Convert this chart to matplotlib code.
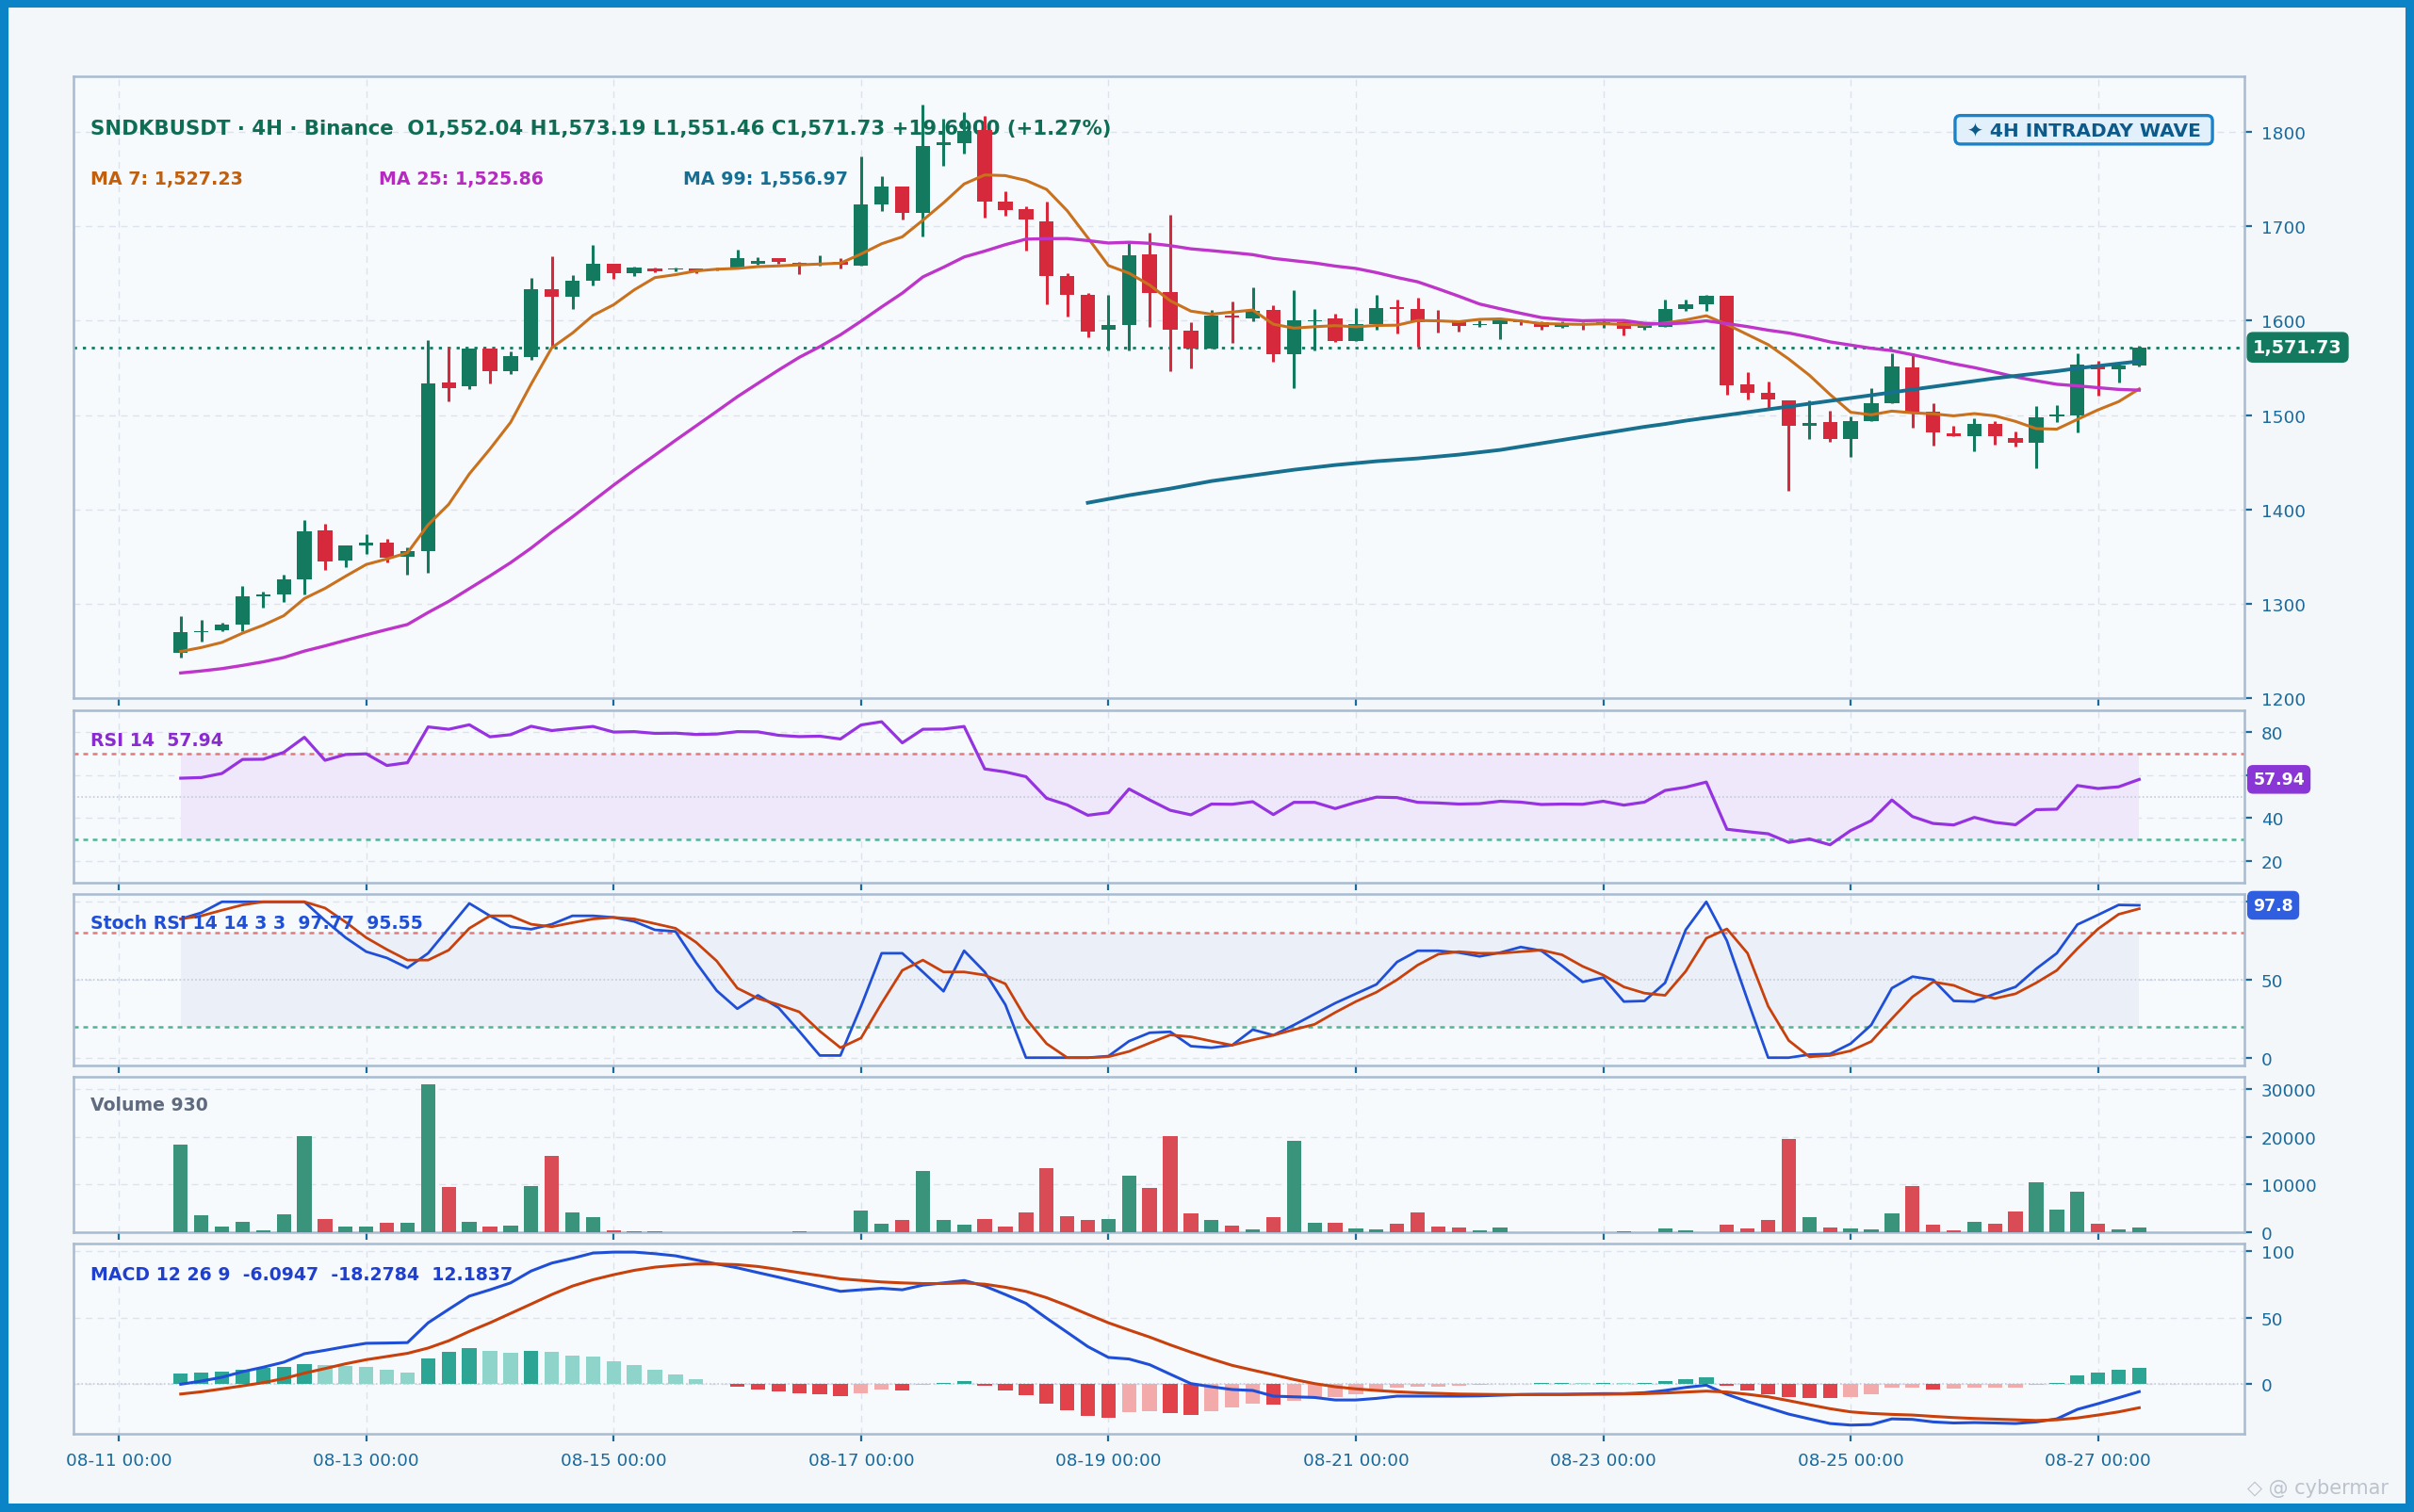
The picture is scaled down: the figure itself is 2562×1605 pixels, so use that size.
import numpy as np
import pandas as pd
import matplotlib
matplotlib.use("Agg")
import matplotlib.pyplot as plt
from matplotlib.patches import Rectangle

# ---------------- data ----------------
start_time = "2025-08-11 12:00"
bar_hours = 4
tick_labels = ["08-11 00:00", "08-13 00:00", "08-15 00:00", "08-17 00:00", "08-19 00:00",
               "08-21 00:00", "08-23 00:00", "08-25 00:00", "08-27 00:00"]

opens = [1248, 1270, 1272, 1278, 1308, 1310, 1326, 1377.6, 1345.6, 1361.6,
         1364.6, 1349.8, 1355.7, 1534, 1530.4, 1570.5, 1546, 1561, 1633.3, 1625,
         1642, 1660, 1650, 1655.7, 1654.4, 1655, 1654.5, 1655, 1660, 1666,
         1661.5, 1660, 1662, 1658.6, 1722.8, 1742.6, 1714, 1786, 1788.6, 1802,
         1726.6, 1718, 1705.5, 1647.3, 1627.4, 1590.3, 1595.8, 1670.5, 1630.4, 1589.5,
         1570.5, 1605, 1602, 1611.4, 1564, 1599.6, 1602, 1578.5, 1596.6, 1614.3,
         1612.2, 1600, 1598.7, 1595, 1596.6, 1600, 1598.7, 1593.7, 1596.6, 1595.8,
         1597.9, 1592.8, 1593.2, 1612.7, 1617.7, 1626, 1532, 1523.6, 1515.6, 1489,
         1492.4, 1474.3, 1493.2, 1512.2, 1550.2, 1503.8, 1480.6, 1477.2, 1491, 1475.5,
         1471, 1499, 1499.6, 1553.6, 1548, 1552.04]
highs = [1286.5, 1283, 1280, 1319, 1313, 1331, 1388.6, 1385, 1362, 1374,
         1368.8, 1360, 1579.7, 1572.6, 1570.5, 1570.5, 1567, 1645, 1668, 1648.5,
         1680, 1660, 1657, 1656.5, 1656.5, 1655.5, 1656, 1675.5, 1667, 1666,
         1662, 1669.6, 1666, 1774, 1752.7, 1742.6, 1828.7, 1814, 1821.5, 1817,
         1737, 1721, 1726, 1650, 1629, 1627.4, 1682, 1693.7, 1712.7, 1598.7,
         1611.4, 1620.7, 1635.4, 1616.5, 1632.5, 1612, 1607, 1613.5, 1627.4, 1622.8,
         1624, 1611.4, 1600.8, 1600.8, 1603, 1601, 1599.5, 1599, 1598, 1600,
         1599.5, 1596.5, 1622, 1622.8, 1627.4, 1626, 1545, 1535.4, 1515.6, 1515.6,
         1505, 1498.3, 1529, 1565, 1565, 1513, 1488.2, 1496.6, 1494, 1483,
         1510, 1511, 1565.8, 1557.8, 1554.4, 1573.19]
lows = [1243, 1260, 1270.5, 1270.5, 1296, 1302, 1310, 1336, 1339, 1353,
        1343.5, 1331, 1333, 1515, 1528, 1533, 1543, 1558.6, 1571, 1612,
        1637.6, 1644, 1647, 1651.5, 1652.5, 1650, 1653, 1655, 1659, 1660,
        1649, 1658.6, 1655.5, 1658.6, 1716, 1707.6, 1689, 1764, 1776.8, 1709.7,
        1711, 1674.7, 1617, 1604, 1582.7, 1568, 1568, 1593.7, 1546.8, 1549,
        1570.5, 1576.8, 1599.6, 1556.5, 1529, 1568, 1577.6, 1578, 1590.3, 1586,
        1572.6, 1587.3, 1588, 1593.7, 1580.6, 1595.8, 1590.3, 1592.4, 1590.3, 1592.8,
        1584, 1590.3, 1593.2, 1610.5, 1610.5, 1521.5, 1516.5, 1506.8, 1419.4, 1474.3,
        1471.3, 1455.3, 1493.2, 1512.2, 1487, 1467.5, 1477.2, 1461.6, 1468.4, 1466.7,
        1443.5, 1492.4, 1481.4, 1520.7, 1534.6, 1551.46]
closes = [1270, 1271, 1277.5, 1307.5, 1310, 1325.7, 1376.8, 1345, 1361.6, 1364.6,
          1348.5, 1355.7, 1533.3, 1529, 1570.5, 1546, 1562, 1633.3, 1625, 1642,
          1660, 1650, 1656.5, 1652.7, 1655, 1652.7, 1655, 1666, 1663, 1662,
          1660.5, 1661, 1659, 1722.8, 1742.6, 1714, 1785.6, 1789, 1801.3, 1726,
          1717.7, 1707, 1647.3, 1627.4, 1588, 1595.4, 1669.6, 1629.5, 1590.3, 1570.5,
          1605, 1603.8, 1610.5, 1564, 1600.8, 1600.5, 1578.5, 1596.6, 1613.5, 1612.7,
          1598.7, 1598.3, 1594, 1596, 1600, 1598, 1593.2, 1595.4, 1595.8, 1598.7,
          1591, 1595.8, 1612.2, 1616.9, 1626, 1531.2, 1523.6, 1516.5, 1489, 1492,
          1474.3, 1494, 1512.2, 1551, 1503.8, 1481.4, 1477.2, 1491, 1477.2, 1471,
          1497.5, 1500, 1553.6, 1548, 1552.04, 1571.73]
volumes = [18400, 3600, 1250, 2240, 460, 3800, 20130, 2830, 1250, 1250,
           2040, 2040, 31050, 9540, 2240, 1250, 1450, 9740, 16050, 4200,
           3220, 460, 260, 260, 40, 30, 30, 40, 30, 30,
           200, 30, 30, 4470, 1840, 2630, 12900, 2630, 1640, 2830,
           1250, 4200, 13490, 3420, 2630, 2830, 11900, 9340, 20200, 4000,
           2630, 1450, 660, 3220, 19200, 2040, 2040, 850, 660, 1840,
           4200, 1250, 1050, 460, 1050, 30, 30, 30, 30, 30,
           260, 30, 850, 460, 30, 1640, 850, 2630, 19600, 3220,
           1050, 850, 660, 4000, 9740, 1640, 460, 2240, 1840, 4400,
           10500, 4800, 8550, 1840, 660, 930]

# moving-average values before a full window is visible
ma7_head = [1249.4, 1253.6, 1259.0, 1268.8, 1277.2, 1287.3]
ma25_head = [1226.6, 1228.7, 1231.2, 1234.6, 1238.4, 1243.0, 1249.8, 1255.3, 1261.2, 1267.0,
             1272.6, 1278.0, 1290.7, 1302.5, 1316.0, 1329.5, 1343.5, 1359.0, 1376.0, 1392.0,
             1408.9, 1425.7, 1441.8, 1457.4]
ma99_tail = [1407, 1411, 1415, 1418.5, 1422, 1426, 1430, 1433, 1436, 1439,
             1442, 1444.5, 1447, 1449, 1451, 1452.5, 1454, 1456, 1458, 1460.5,
             1463, 1466.5, 1470, 1473.5, 1477, 1480.5, 1484, 1487.5, 1490.5, 1494,
             1497, 1500, 1503, 1506, 1509, 1512, 1515, 1518, 1521, 1524,
             1527, 1530, 1533, 1536, 1539, 1541.5, 1544, 1546.5, 1549.5, 1552,
             1554.5, 1556.97]
ma_labels = {"MA 7": 1527.23, "MA 25": 1525.86, "MA 99": 1556.97}

rsi = [58.5, 58.8, 60.7, 67.2, 67.3, 70.5, 77.5, 66.8, 69.5, 69.8,
       64.4, 65.7, 82.3, 81.2, 83.3, 77.7, 78.7, 82.6, 80.6, 81.6,
       82.5, 79.9, 80.1, 79.3, 79.4, 78.8, 79.0, 80.1, 80.0, 78.4,
       77.8, 78.0, 76.7, 83.2, 84.7, 74.9, 81.2, 81.3, 82.5, 62.8,
       61.4, 59.2, 49.2, 46.1, 41.3, 42.5, 53.5, 48.4, 43.6, 41.5,
       46.5, 46.4, 47.6, 41.6, 47.3, 47.3, 44.4, 47.3, 49.7, 49.5,
       47.3, 47.0, 46.5, 46.7, 47.8, 47.4, 46.3, 46.5, 46.4, 47.8,
       46.0, 47.4, 52.8, 54.3, 56.7, 34.8, 33.7, 32.7, 28.7, 30.3,
       27.6, 34.2, 38.8, 48.4, 40.7, 37.5, 36.8, 40.3, 38.0, 36.9,
       43.9, 44.1, 55.1, 53.7, 54.5, 57.94]
stoch_k = [89, 93, 100, 100, 100, 100, 100, 88, 77, 68,
           64, 57.6, 67, 83, 99, 91, 84, 82.4, 85.6, 91,
           91, 90, 87.4, 82, 81, 61, 43, 31.4, 40, 32,
           17, 1.4, 1.4, 33, 67, 67, 55, 42.6, 68.6, 55,
           34, 0, 0, 0, 0, 1, 10.6, 16, 16.6, 7.4,
           6.4, 8, 18, 14.4, 21, 28, 35, 41, 47, 61.4,
           68.6, 68.6, 67.4, 65, 67.4, 71, 68.6, 59, 48.6, 51.4,
           36, 36.4, 48, 82, 100, 75, 37, 0, 0, 2,
           2.4, 9, 21, 44.6, 52, 50, 36.4, 36, 41, 45.4,
           57, 67, 85.4, 91.6, 98, 97.77]
stoch_d = [89, 91, 94.6, 98, 100, 100, 100, 96, 87, 77,
           69.4, 62.6, 62.6, 69, 83, 91, 91, 85.6, 84, 86.6,
           89, 90, 89, 86, 83, 74, 62, 44.6, 38, 34,
           29.4, 17, 6.4, 12.6, 35, 56, 62.6, 55, 55, 53,
           47.4, 25, 9, 0, 0, 0.6, 4, 9.4, 14.6, 13.4,
           10.6, 8, 11.4, 14.4, 18, 21.4, 29, 36, 42, 50,
           59.4, 66.4, 68, 67, 67, 68, 69, 66, 58.6, 53,
           45.4, 41.4, 40, 55.4, 76.6, 82.6, 67, 33, 11, 0.6,
           1.4, 4.4, 10.4, 25, 39, 48.6, 46.4, 41, 38, 41,
           48, 56, 70, 82.6, 92, 95.55]
macd = [-0.5, 1.9, 4.8, 9, 12.4, 16.2, 22.6, 25.2, 28, 30.5,
        30.7, 31, 46, 56.2, 66.2, 71, 76.2, 85.2, 91.2, 94.8,
        98.8, 99.5, 99.5, 98.3, 96.7, 93.6, 90.5, 87.6, 84, 80.5,
        76.9, 73.3, 69.8, 71, 72.1, 71, 74.5, 76.2, 78, 73.8,
        67.4, 60.7, 49.5, 38.8, 28, 19.8, 18.6, 14.3, 7.1, 0,
        -2.4, -4.5, -5.2, -9.5, -10, -10.5, -12.4, -12.4, -11.2, -9.5,
        -9.5, -9.5, -9.5, -9.3, -8.8, -8.3, -8.1, -8.1, -7.9, -7.6,
        -7.6, -6.9, -5.2, -2.9, -1.2, -8.1, -13.6, -18.3, -23.1, -26.7,
        -30.2, -31.4, -31, -26.7, -27.1, -29, -29.8, -29.5, -29.8, -30.2,
        -29, -26.7, -19.5, -15.2, -10.7, -6.0947]
signal = [-7.9, -6.2, -4, -1.7, 0.7, 3.8, 7.9, 11.4, 15, 18.1,
          20.5, 22.9, 26.9, 32.4, 39.5, 46, 53.1, 60.2, 67.4, 73.8,
          78.6, 82.4, 85.7, 88.1, 89.5, 90.5, 90.5, 90, 88.6, 86.4,
          84, 81.7, 79.3, 78.1, 76.9, 76.2, 75.7, 75.7, 76.2, 75.2,
          72.9, 69.8, 65, 59, 52.4, 46, 40.5, 35.2, 29.3, 23.8,
          18.6, 13.8, 10.2, 6.7, 3.1, 0, -2.4, -4, -5.2, -6.2,
          -6.9, -7.4, -7.9, -8.1, -8.3, -8.3, -8.3, -8.3, -8.1, -8.1,
          -7.9, -7.6, -7.1, -6.4, -5.7, -6.4, -8.1, -10, -12.9, -16,
          -19, -21.4, -22.6, -23.3, -23.8, -24.8, -25.7, -26.4, -26.9, -27.4,
          -27.9, -27.4, -26, -23.8, -21.4, -18.2784]

# ---------------- derived ----------------
n = len(closes)
x = np.arange(n)
times = pd.date_range(start_time, periods=n, freq=f"{bar_hours}h")
t0 = times[0]
tick_pos = [((pd.Timestamp(f"{t0.year}-{lab[:5]} {lab[6:]}") - t0) / pd.Timedelta(hours=bar_hours))
            for lab in tick_labels]
o = np.array(opens); h = np.array(highs); l = np.array(lows); c = np.array(closes)
up = c >= o
cs = pd.Series(c)
ma7 = cs.rolling(7).mean().to_numpy(); ma7[:len(ma7_head)] = ma7_head
ma25 = cs.rolling(25).mean().to_numpy(); ma25[:len(ma25_head)] = ma25_head
ma99 = np.array([np.nan] * (n - len(ma99_tail)) + ma99_tail)
macd_a = np.array(macd); sig_a = np.array(signal); hist = macd_a - sig_a

# ---------------- style ----------------
W, H = 2562, 1606
FIG_BG = "#f3f7fa"
AX_BG = "#f7fafd"
SPINE = "#a8bbd0"
GRID = "#dce3ed"
TICK = "#1a6a9c"
UP = "#137a60"
DOWN = "#d6293b"
VUP = "#3a937b"
VDOWN = "#d94c56"
LABEL_FS = 13.6

fig = plt.figure(figsize=(W / 100, H / 100), dpi=100, facecolor=FIG_BG)
L = 78 / W
WD = (2382 - 78) / W


def ax_at(top, bottom):
    return fig.add_axes([L, 1 - bottom / H, WD, (bottom - top) / H])


ax0 = ax_at(82, 742)
ax1 = ax_at(755, 938)
ax2 = ax_at(950, 1132)
ax3 = ax_at(1144, 1309)
ax4 = ax_at(1321, 1523)
axes = [ax0, ax1, ax2, ax3, ax4]

for ax in axes:
    ax.set_facecolor(AX_BG)
    for sp in ax.spines.values():
        sp.set_color(SPINE)
        sp.set_linewidth(1.8)
    ax.yaxis.tick_right()
    ax.set_xlim(-5.2, 100.1)
    ax.set_xticks(tick_pos)
    ax.tick_params(axis="both", colors=TICK, labelsize=13.3, length=6, width=1.6, direction="out")
    ax.tick_params(axis="y", pad=7)
    ax.tick_params(axis="x", labelbottom=False)
    ax.grid(True, color=GRID, linestyle=(0, (5, 4)), linewidth=1.0)
    ax.set_axisbelow(True)
ax4.tick_params(axis="x", labelbottom=True, pad=8)
ax4.set_xticklabels(tick_labels)

bold = dict(fontweight="bold")


def tag(ax, y, text, color, fs=12.5):
    ax.text(1.004, y, text, transform=ax.get_yaxis_transform(), ha="left", va="center",
            fontsize=fs, color="white", fontweight="bold", zorder=20, clip_on=False,
            bbox=dict(boxstyle="round,pad=0.32", fc=color, ec=color))


# ---------------- main price panel ----------------
ax0.set_ylim(1200, 1859)
ax0.set_yticks([1200, 1300, 1400, 1500, 1600, 1700, 1800])
cols = np.where(up, UP, DOWN)
ax0.vlines(x, l, h, colors=cols, linewidth=2.2, zorder=3)
body_lo = np.minimum(o, c)
body_h = np.maximum(np.abs(c - o), 1.2)
ax0.bar(x, body_h, bottom=body_lo, width=0.7, color=cols, zorder=4, linewidth=0)
ax0.plot(x, ma7, color="#c9711d", lw=2.2, zorder=5)
ax0.plot(x, ma25, color="#bd35c9", lw=2.4, zorder=5)
ax0.plot(x, ma99, color="#17708f", lw=2.8, zorder=5)
last = c[-1]
ax0.axhline(last, color=UP, linestyle=(0, (1.2, 2.2)), lw=2.0, zorder=2)
tag(ax0, last, f"{last:,.2f}", "#137a60", fs=13.8)

chg = c[-1] - o[-1]
pct = chg / o[-1] * 100
title = (f"SNDKBUSDT · 4H · Binance  O{o[-1]:,.2f} H{h[-1]:,.2f} L{l[-1]:,.2f} "
         f"C{c[-1]:,.2f} {chg:+.4f} ({pct:+.2f}%)")
ax0.text(0.008, 0.917, title, transform=ax0.transAxes, fontsize=15.3, color="#0e6e55",
         va="center", ha="left", zorder=2, **bold)
ma_cols = ["#c25f0c", "#b52bc0", "#146f93"]
ma_x = [0.008, 0.1406, 0.2806]
for (name, val), col, xx in zip(ma_labels.items(), ma_cols, ma_x):
    ax0.text(xx, 0.835, f"{name}: {val:,.2f}", transform=ax0.transAxes, fontsize=13.7,
             color=col, va="center", ha="left", zorder=6, **bold)
ax0.text(0.926, 0.914, " ✦ 4H INTRADAY WAVE ", transform=ax0.transAxes, fontsize=14.5,
         color="#0b5a8a", ha="center", va="center", zorder=10, **bold,
         bbox=dict(boxstyle="round,pad=0.28", fc="#e2f0fb", ec="#1a82c8", lw=2.4))

# ---------------- RSI ----------------
ax1.set_ylim(10, 90)
ax1.set_yticks([20, 40, 60, 80])
ax1.set_yticklabels(["20", "40", "", "80"])
ax1.fill_between([x[0], x[-1]], 30, 70, color="#efe8fa", zorder=1, linewidth=0)
ax1.axhline(70, color="#e27a7a", linestyle=(0, (2, 2)), lw=1.8, zorder=2)
ax1.axhline(30, color="#4fb592", linestyle=(0, (2, 2)), lw=1.8, zorder=2)
ax1.axhline(50, color="#c4cbd8", linestyle=(0, (1, 1.5)), lw=1.2, zorder=2)
ax1.plot(x, rsi, color="#9633e0", lw=2.3, zorder=4)
ax1.text(0.008, 0.83, f"RSI 14  {rsi[-1]:.2f}", transform=ax1.transAxes, fontsize=LABEL_FS,
         color="#8a2bd0", va="center", ha="left", zorder=6, **bold)
tag(ax1, rsi[-1], f"{rsi[-1]:.2f}", "#8a36d6")

# ---------------- Stoch RSI ----------------
ax2.set_ylim(-5, 105)
ax2.set_yticks([0, 50, 100])
ax2.set_yticklabels(["0", "50", ""])
ax2.fill_between([x[0], x[-1]], 20, 80, color="#ebf0f8", zorder=1, linewidth=0)
ax2.axhline(80, color="#e27a7a", linestyle=(0, (2, 2)), lw=1.8, zorder=2)
ax2.axhline(20, color="#4fb592", linestyle=(0, (2, 2)), lw=1.8, zorder=2)
ax2.axhline(50, color="#c4cbd8", linestyle=(0, (1, 1.5)), lw=1.2, zorder=2)
ax2.plot(x, stoch_k, color="#1f4fd6", lw=2.0, zorder=4)
ax2.plot(x, stoch_d, color="#c8400c", lw=2.0, zorder=4)
ax2.text(0.008, 0.835, f"Stoch RSI 14 14 3 3  {stoch_k[-1]:.2f}  {stoch_d[-1]:.2f}",
         transform=ax2.transAxes, fontsize=LABEL_FS, color="#1f4fd6", va="center", ha="left",
         zorder=6, **bold)
tag(ax2, stoch_k[-1], f"{stoch_k[-1]:.1f}", "#2f5fe0")

# ---------------- Volume ----------------
ax3.set_ylim(0, max(volumes) * 1.05)
ax3.set_yticks([0, 10000, 20000, 30000])
ax3.bar(x, volumes, width=0.7, color=np.where(up, VUP, VDOWN), zorder=3, linewidth=0)
ax3.text(0.008, 0.824, f"Volume {volumes[-1]}", transform=ax3.transAxes,
         fontsize=LABEL_FS, color="#5f6a7e", va="center", ha="left", zorder=6, **bold)

# ---------------- MACD ----------------
ax4.set_ylim(-38, 106)
ax4.set_yticks([0, 50, 100])
prev = np.concatenate([[0.0], hist[:-1]])
hcols = []
for hv, pv in zip(hist, prev):
    if hv >= 0:
        hcols.append("#2ca594" if hv >= pv else "#8fd4cb")
    else:
        hcols.append("#e2424a" if hv <= pv else "#f2aaaa")
ax4.axhline(0, color="#c4cbd8", linestyle=(0, (1, 1.5)), lw=1.2, zorder=2)
ax4.bar(x, hist, width=0.7, color=hcols, zorder=3, linewidth=0)
ax4.plot(x, macd_a, color="#1f4fd6", lw=2.2, zorder=4)
ax4.plot(x, sig_a, color="#c8400c", lw=2.2, zorder=4)
ax4.text(0.008, 0.84, f"MACD 12 26 9  {macd_a[-1]:.4f}  {sig_a[-1]:.4f}  {hist[-1]:.4f}",
         transform=ax4.transAxes, fontsize=LABEL_FS, color="#1f3fcf", va="center", ha="left",
         zorder=6, **bold)

# ---------------- frame & watermark ----------------
fig.text(0.931, 0.010, "◇ @ cybermar", fontsize=15, color="#bcc3cd", ha="left", va="bottom")
fig.patches.append(Rectangle((0, 0), 1, 1, transform=fig.transFigure, fill=False,
                             ec="#0a84c6", lw=13, zorder=100))

fig.savefig("out.png", dpi=100, facecolor=FIG_BG)
